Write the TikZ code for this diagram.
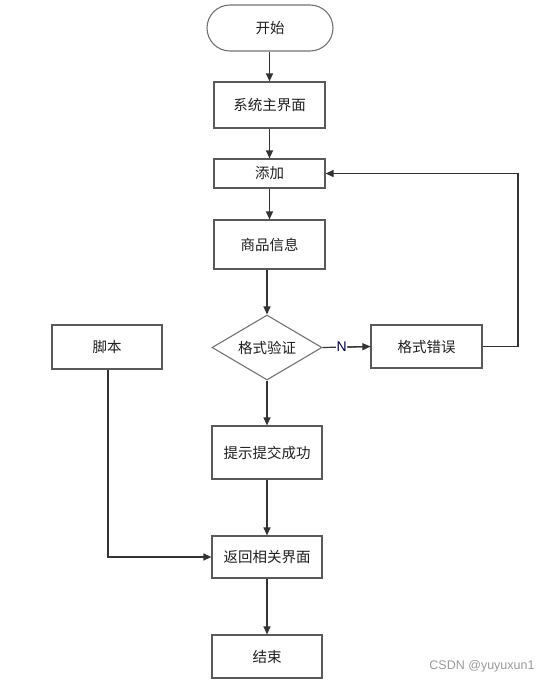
\documentclass[tikz,border=0pt]{standalone}
\usepackage{fontspec}
\setmainfont{Noto Sans CJK SC}
\newfontfamily\latinfont{Liberation Sans}
\usetikzlibrary{shapes.geometric,shapes.misc,arrows.meta}
\begin{document}
\begin{tikzpicture}[x=1pt,y=-1pt,
  every node/.style={font=\fontsize{14.5}{16}\selectfont, text=black!88},
  box/.style={draw=black!65, line width=1.2pt, rectangle, inner sep=0pt},
  term/.style={draw=black!55, line width=1.1pt, rounded rectangle, inner sep=0pt},
  dec/.style={draw=black!55, line width=1.1pt, diamond, inner sep=0pt, aspect=1.7},
  conn/.style={draw=black!80, line width=1.2pt},
  arr/.style={conn, -{Triangle[length=8pt,width=7pt]}}
]
\useasboundingbox (0,0) rectangle (552,683);
\node[term, minimum width=126pt, minimum height=46pt] (start) at (270,28) {开始};
\node[box, minimum width=111pt, minimum height=46pt] (main) at (269.5,105) {系统主界面};
\node[box, minimum width=111pt, minimum height=29pt] (add) at (269.5,173.5) {添加};
\node[box, minimum width=111pt, minimum height=49pt] (info) at (269.5,244.5) {商品信息};
\node[dec, minimum width=110pt, minimum height=65pt] (check) at (267,347.5) {格式验证};
\node[box, minimum width=111pt, minimum height=43pt] (err) at (426.5,346.5) {格式错误};
\node[box, minimum width=110pt, minimum height=44pt] (script) at (107,347) {脚本};
\node[box, minimum width=110pt, minimum height=53pt] (ok) at (267,452.5) {提示提交成功};
\node[box, minimum width=110pt, minimum height=42pt] (ret) at (267,557) {返回相关界面};
\node[box, minimum width=110pt, minimum height=43pt] (end) at (267,656.5) {结束};
\node[font=\latinfont\fontsize{12.5}{14}\selectfont, text=black!40] (wm) at (482,666) {CSDN @yuyuxun1};

\coordinate (loopA) at (518,346.5);
\coordinate (loopB) at (518,173.5);
\coordinate (sc) at (108,557);

\draw[arr] (start.south -| main.north) -- (main.north);
\draw[arr] (main) -- (add);
\draw[arr] (add) -- (info);
\draw[arr] (info.south -| check.north) -- (check.north);
\draw[conn] (check.east) -- node[pos=0.4, fill=white, inner sep=0.5pt, font=\latinfont\fontsize{14}{16}\selectfont, text=black!75!blue] (N) {N} (err.west);
\draw[arr] (N.east) -- (err.west);
\draw[arr] (err.east) -- (loopA) -- (loopB) -- (add.east);
\draw[arr] (check) -- (ok);
\draw[arr] (ok) -- (ret);
\draw[arr] (script.south -| sc) -- (sc) -- (ret.west);
\draw[arr] (ret) -- (end);
\end{tikzpicture}
\end{document}
